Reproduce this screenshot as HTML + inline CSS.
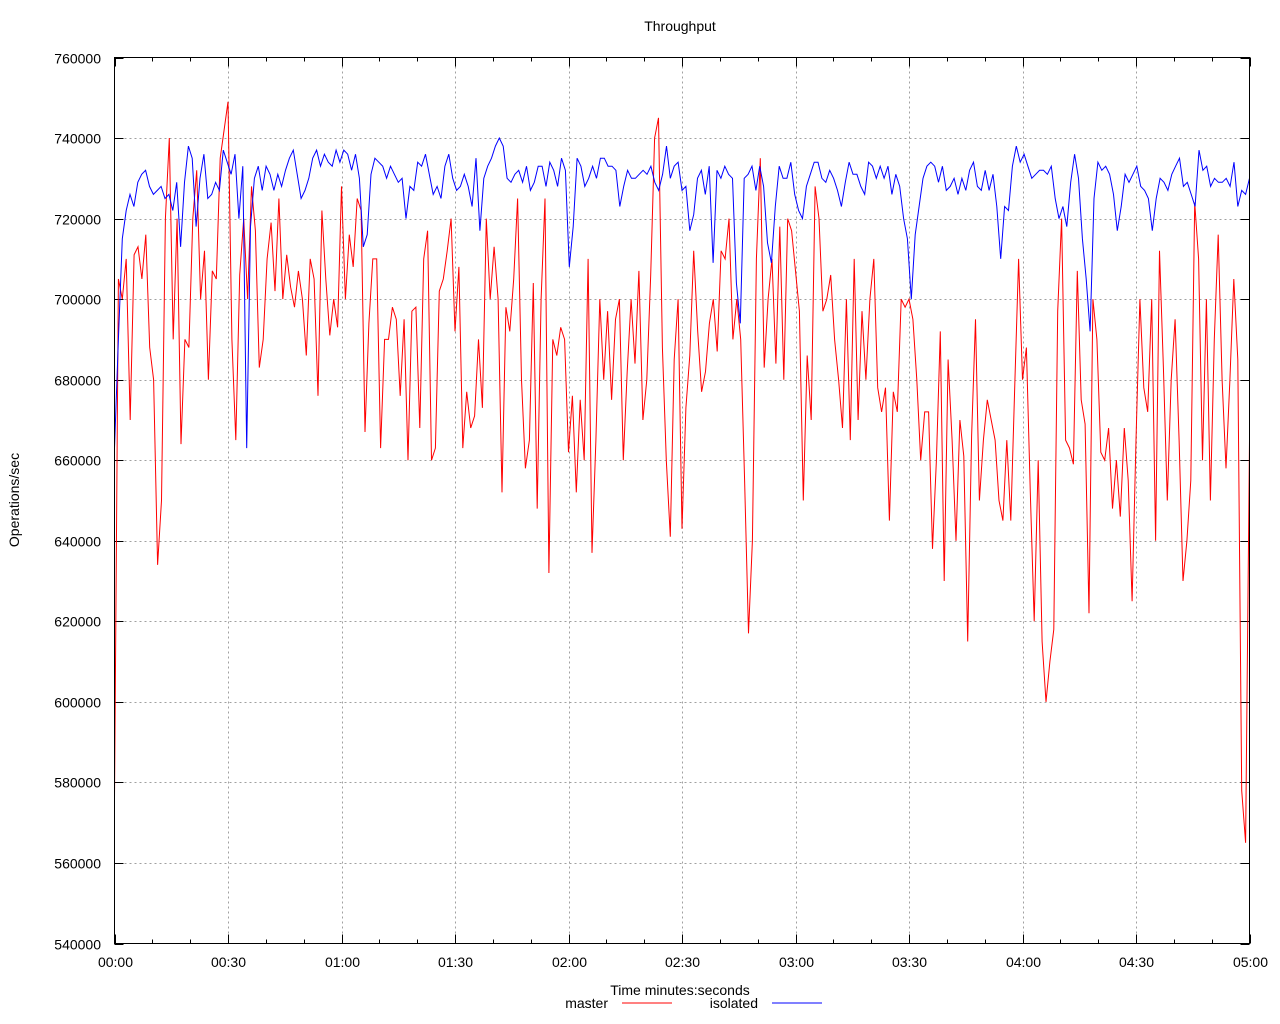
<!DOCTYPE html>
<html><head><meta charset="utf-8"><style>
body{margin:0;background:#fff;}
svg{display:block;font-family:"Liberation Sans",sans-serif;}
</style></head><body>
<svg id="chart" width="1280" height="1024">
<text x="680" y="31" text-anchor="middle" font-size="14">Throughput</text>
<text transform="translate(19,500) rotate(-90)" text-anchor="middle" font-size="14">Operations/sec</text>
<text x="680" y="995" text-anchor="middle" font-size="14">Time minutes:seconds</text>
<g>
<text x="608" y="1008" text-anchor="end" font-size="14">master</text>
<line x1="622" y1="1003" x2="672" y2="1003" stroke="#f00"/>
<text x="758" y="1008" text-anchor="end" font-size="14">isolated</text>
<line x1="772" y1="1003" x2="822" y2="1003" stroke="#00f"/>
</g>
<g id="grid"></g><g id="axes"></g><g id="series"></g>
<rect x="114.5" y="57.5" width="1135" height="886" fill="none" stroke="#000"/>
</svg>
<script>
const yTicks=[540000,560000,580000,600000,620000,640000,660000,680000,700000,720000,740000,760000];
const xTicks=[0,30,60,90,120,150,180,210,240,270,300];
const xTickLabels=["00:00","00:30","01:00","01:30","02:00","02:30","03:00","03:30","04:00","04:30","05:00"];
const masterK=[576,705,700,710,670,711,713,705,716,688,680,634,650,720,740,690,720,664,690,688,720,732,700,712,680,707,705,735,742,749,690,665,706,720,700,728,717,683,690,710,719,702,725,700,711,703,698,707,700,686,710,705,676,722,705,691,700,693,728,700,716,708,725,722,667,694,710,710,663,690,690,698,695,676,695,660,697,698,668,710,717,660,663,702,705,712,720,692,708,663,677,668,671,690,673,720,700,713,700,652,698,692,705,725,680,658,665,704,648,700,725,632,690,686,693,690,662,676,652,675,660,710,637,665,700,680,697,675,695,700,660,682,700,684,707,670,680,706,740,745,688,660,641,685,700,643,673,686,712,692,677,682,694,700,687,712,710,720,690,700,690,655,617,640,710,735,683,700,710,684,718,680,720,717,707,697,650,686,670,728,720,697,700,706,690,680,668,700,665,710,670,697,680,700,710,678,672,678,645,677,672,700,698,700,695,680,660,672,672,638,660,692,630,685,665,640,670,661,615,666,695,650,665,675,670,665,650,645,665,645,678,710,680,688,652,620,660,615,600,610,618,697,720,665,663,659,707,675,669,622,700,690,662,660,668,648,660,646,668,655,625,665,700,678,672,700,640,712,683,650,680,695,665,630,640,655,724,710,660,700,650,690,716,680,658,680,705,685,578,565,665];
const isolatedK=[663,690,715,722,726,723,729,731,732,728,726,727,728,725,726,722,729,713,729,738,735,718,730,736,725,726,729,727,737,734,731,736,720,733,663,718,730,733,727,733,731,727,731,728,732,735,737,731,725,727,730,735,737,733,736,734,733,737,734,737,736,732,736,730,713,716,731,735,734,733,730,733,731,729,730,720,728,727,734,733,736,731,726,728,725,733,736,730,727,728,731,728,723,735,717,730,733,735,738,740,738,730,729,731,732,729,733,727,729,733,733,728,734,732,728,735,732,708,718,735,733,728,730,733,730,735,735,733,733,732,723,728,732,730,730,731,732,731,733,729,727,731,738,730,733,734,727,728,717,721,730,732,726,733,709,732,730,733,731,730,704,694,730,731,733,727,733,728,714,709,723,733,730,730,734,726,722,720,728,731,734,734,730,729,732,730,727,723,729,734,731,731,728,726,734,733,730,733,730,733,726,731,728,720,715,700,716,723,730,733,734,733,729,733,727,728,730,726,730,727,732,734,728,727,732,727,731,723,710,723,722,733,738,734,736,733,730,731,732,732,731,733,725,720,723,718,729,736,730,715,705,692,725,734,732,733,731,726,717,723,731,729,731,733,728,727,725,717,725,730,729,727,731,733,735,728,729,726,723,737,732,733,728,730,729,729,730,728,734,723,727,726,730];
const NS="http://www.w3.org/2000/svg";
const X0=114.5,X1=1249.5,Y0=943.5,Y1=57.5;
function xs(t){return X0+(t-0)/(300-0)*(X1-X0);}
function ys(v){return Y0-(v-540000)/(760000-540000)*(Y0-Y1);}
function mk(tag,attrs,parent){const e=document.createElementNS(NS,tag);for(const k in attrs)e.setAttribute(k,attrs[k]);parent.appendChild(e);return e;}
const grid=document.getElementById('grid'),axes=document.getElementById('axes'),ser=document.getElementById('series');
yTicks.forEach((v,i)=>{const y=Math.round(ys(v))+0.5;
 if(i>0&&i<yTicks.length-1){const g=mk('line',{x1:X0,x2:X1,y1:y,y2:y,stroke:'#a0a0a0','stroke-dasharray':'2,3'},grid);
 
 }
 mk('line',{x1:X0,x2:X0+9,y1:y,y2:y,stroke:'#000'},axes);
 mk('line',{x1:X1-9,x2:X1,y1:y,y2:y,stroke:'#000'},axes);
 const t=mk('text',{x:101,y:y+5,'text-anchor':'end','font-size':14},axes);t.textContent=v;
 
 
});
for(let s=0;s<=300;s+=10){const x=Math.round(xs(s))+0.5;const major=s%30===0;
 mk('line',{x1:x,x2:x,y1:Y0,y2:Y0-(major?9:4),stroke:'#000'},axes);
 mk('line',{x1:x,x2:x,y1:Y1,y2:Y1+(major?9:4),stroke:'#000'},axes);}
xTicks.forEach((s,i)=>{const x=Math.round(xs(s))+0.5;
 if(i>0&&i<xTicks.length-1){const g=mk('line',{x1:x,x2:x,y1:Y0,y2:Y1,stroke:'#a0a0a0','stroke-dasharray':'2,3'},grid);
 
 }
 const t=mk('text',{x:x,y:967,'text-anchor':'middle','font-size':14},axes);t.textContent=xTickLabels[i];
 
 
});
function draw(arr,color,name){const n=arr.length;const pts=arr.map((v,i)=>xs(i*300/(n-1)).toFixed(1)+','+ys(v*1000).toFixed(1)).join(' ');
 const p=mk('polyline',{points:pts,fill:'none',stroke:color,'stroke-width':1},ser);
 
 }
draw(masterK,'#f00','master-line');
draw(isolatedK,'#00f','isolated-line');
</script>
</body></html>
